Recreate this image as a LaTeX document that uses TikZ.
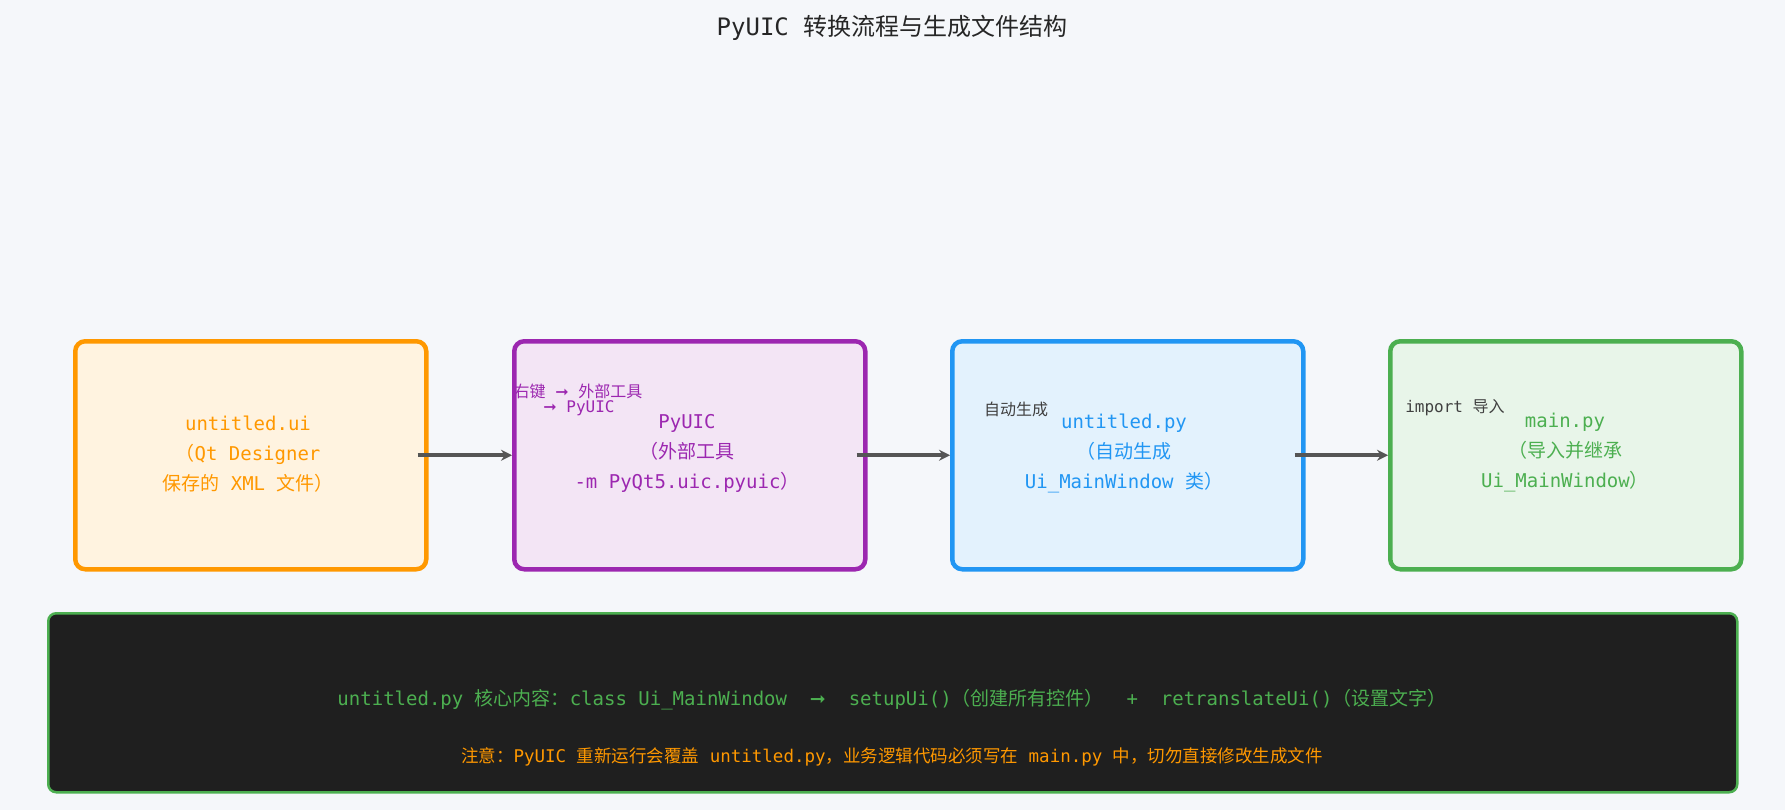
\documentclass[tikz,border=0pt]{standalone}
\usepackage{fontspec}
\setmainfont{DejaVu Sans Mono}
\newfontfamily\cjk{Noto Sans CJK SC}
\newfontfamily\symf{DejaVu Sans}
\newcommand{\C}[1]{{\cjk #1}}
\usetikzlibrary{arrows.meta}
\definecolor{bg}{HTML}{F5F7FA}
\definecolor{oc}{HTML}{FF9800}\definecolor{of}{HTML}{FFF3E0}
\definecolor{pc}{HTML}{9C27B0}\definecolor{pf}{HTML}{F3E5F5}
\definecolor{bc}{HTML}{2196F3}\definecolor{bf}{HTML}{E3F2FD}
\definecolor{gc}{HTML}{4CAF50}\definecolor{gf}{HTML}{E8F5E9}
\definecolor{ac}{HTML}{555555}
\begin{document}
\begin{tikzpicture}[x=1pt,y=-1pt,
 box/.style={draw,line width=4.5pt,rounded corners=10pt,minimum width=351pt,minimum height=228pt,anchor=north west},
 txt/.style={align=center,font=\fontsize{19}{30}\selectfont},
 lab/.style={font=\fontsize{16}{17}\selectfont,align=center},
 arr/.style={draw=ac,line width=4pt,-{Stealth[length=11pt,width=11pt]}}]
\fill[bg] (0,0) rectangle (1785,810);
\useasboundingbox (0,0) rectangle (1785,810);
\node[font=\fontsize{24}{26}\selectfont,text=black!85] (title) at (892,28) {PyUIC \C{转换流程与生成文件结构}};
\node[box,draw=oc,fill=of] (b1) at (73,339) {};
\node[box,draw=pc,fill=pf] (b2) at (512,339) {};
\node[box,draw=bc,fill=bf] (b3) at (950,339) {};
\node[box,draw=gc,fill=gf] (b4) at (1388,339) {};
\node[txt,text=oc] (t1) at (248,454) {untitled.ui\\\C{（}Qt Designer\\\C{保存的} XML \C{文件）}};
\node[txt,text=pc] (t2) at (687,453) {PyUIC\\\C{（外部工具}\\-m PyQt5.uic.pyuic\C{）}};
\node[txt,text=bc] (t3) at (1124,453) {untitled.py\\\C{（自动生成}\\Ui\_MainWindow \C{类）}};
\node[txt,text=gc] (t4) at (1565,453) {main.py\\\C{（导入并继承}\\Ui\_MainWindow\C{）}};
\draw[arr] ([xshift=-11pt]b1.east) -- (b2.west);
\draw[arr] ([xshift=-11pt]b2.east) -- (b3.west);
\draw[arr] ([xshift=-11pt]b3.east) -- (b4.west);
\node[lab,text=pc] (l2a) at (578,391) {\C{右键} {\symf ➞} \C{外部工具}};
\node[lab,text=pc] (l2b) at (579,408) {{\symf ➞} PyUIC};
\node[lab,text=black!75] (l3) at (1016,409) {\C{自动生成}};
\node[lab,text=black!75] (l4) at (1455,408) {import \C{导入}};
\node[draw=gc,fill=black!88,line width=2.5pt,rounded corners=8pt,minimum width=1689pt,minimum height=179pt,anchor=north west] (bot) at (47,612) {};
\node[font=\fontsize{19}{20}\selectfont,text=gc] (m1) at (892,700) {untitled.py \C{核心内容：}class Ui\_MainWindow \ {\symf ➞} \ setupUi()\C{（创建所有控件）} \ + \ retranslateUi()\C{（设置文字）}};
\node[font=\fontsize{17.5}{20}\selectfont,text=oc] (m2) at (892,757) {\C{注意：}PyUIC \C{重新运行会覆盖} untitled.py\C{，业务逻辑代码必须写在} main.py \C{中，切勿直接修改生成文件}};
\end{tikzpicture}
\end{document}
